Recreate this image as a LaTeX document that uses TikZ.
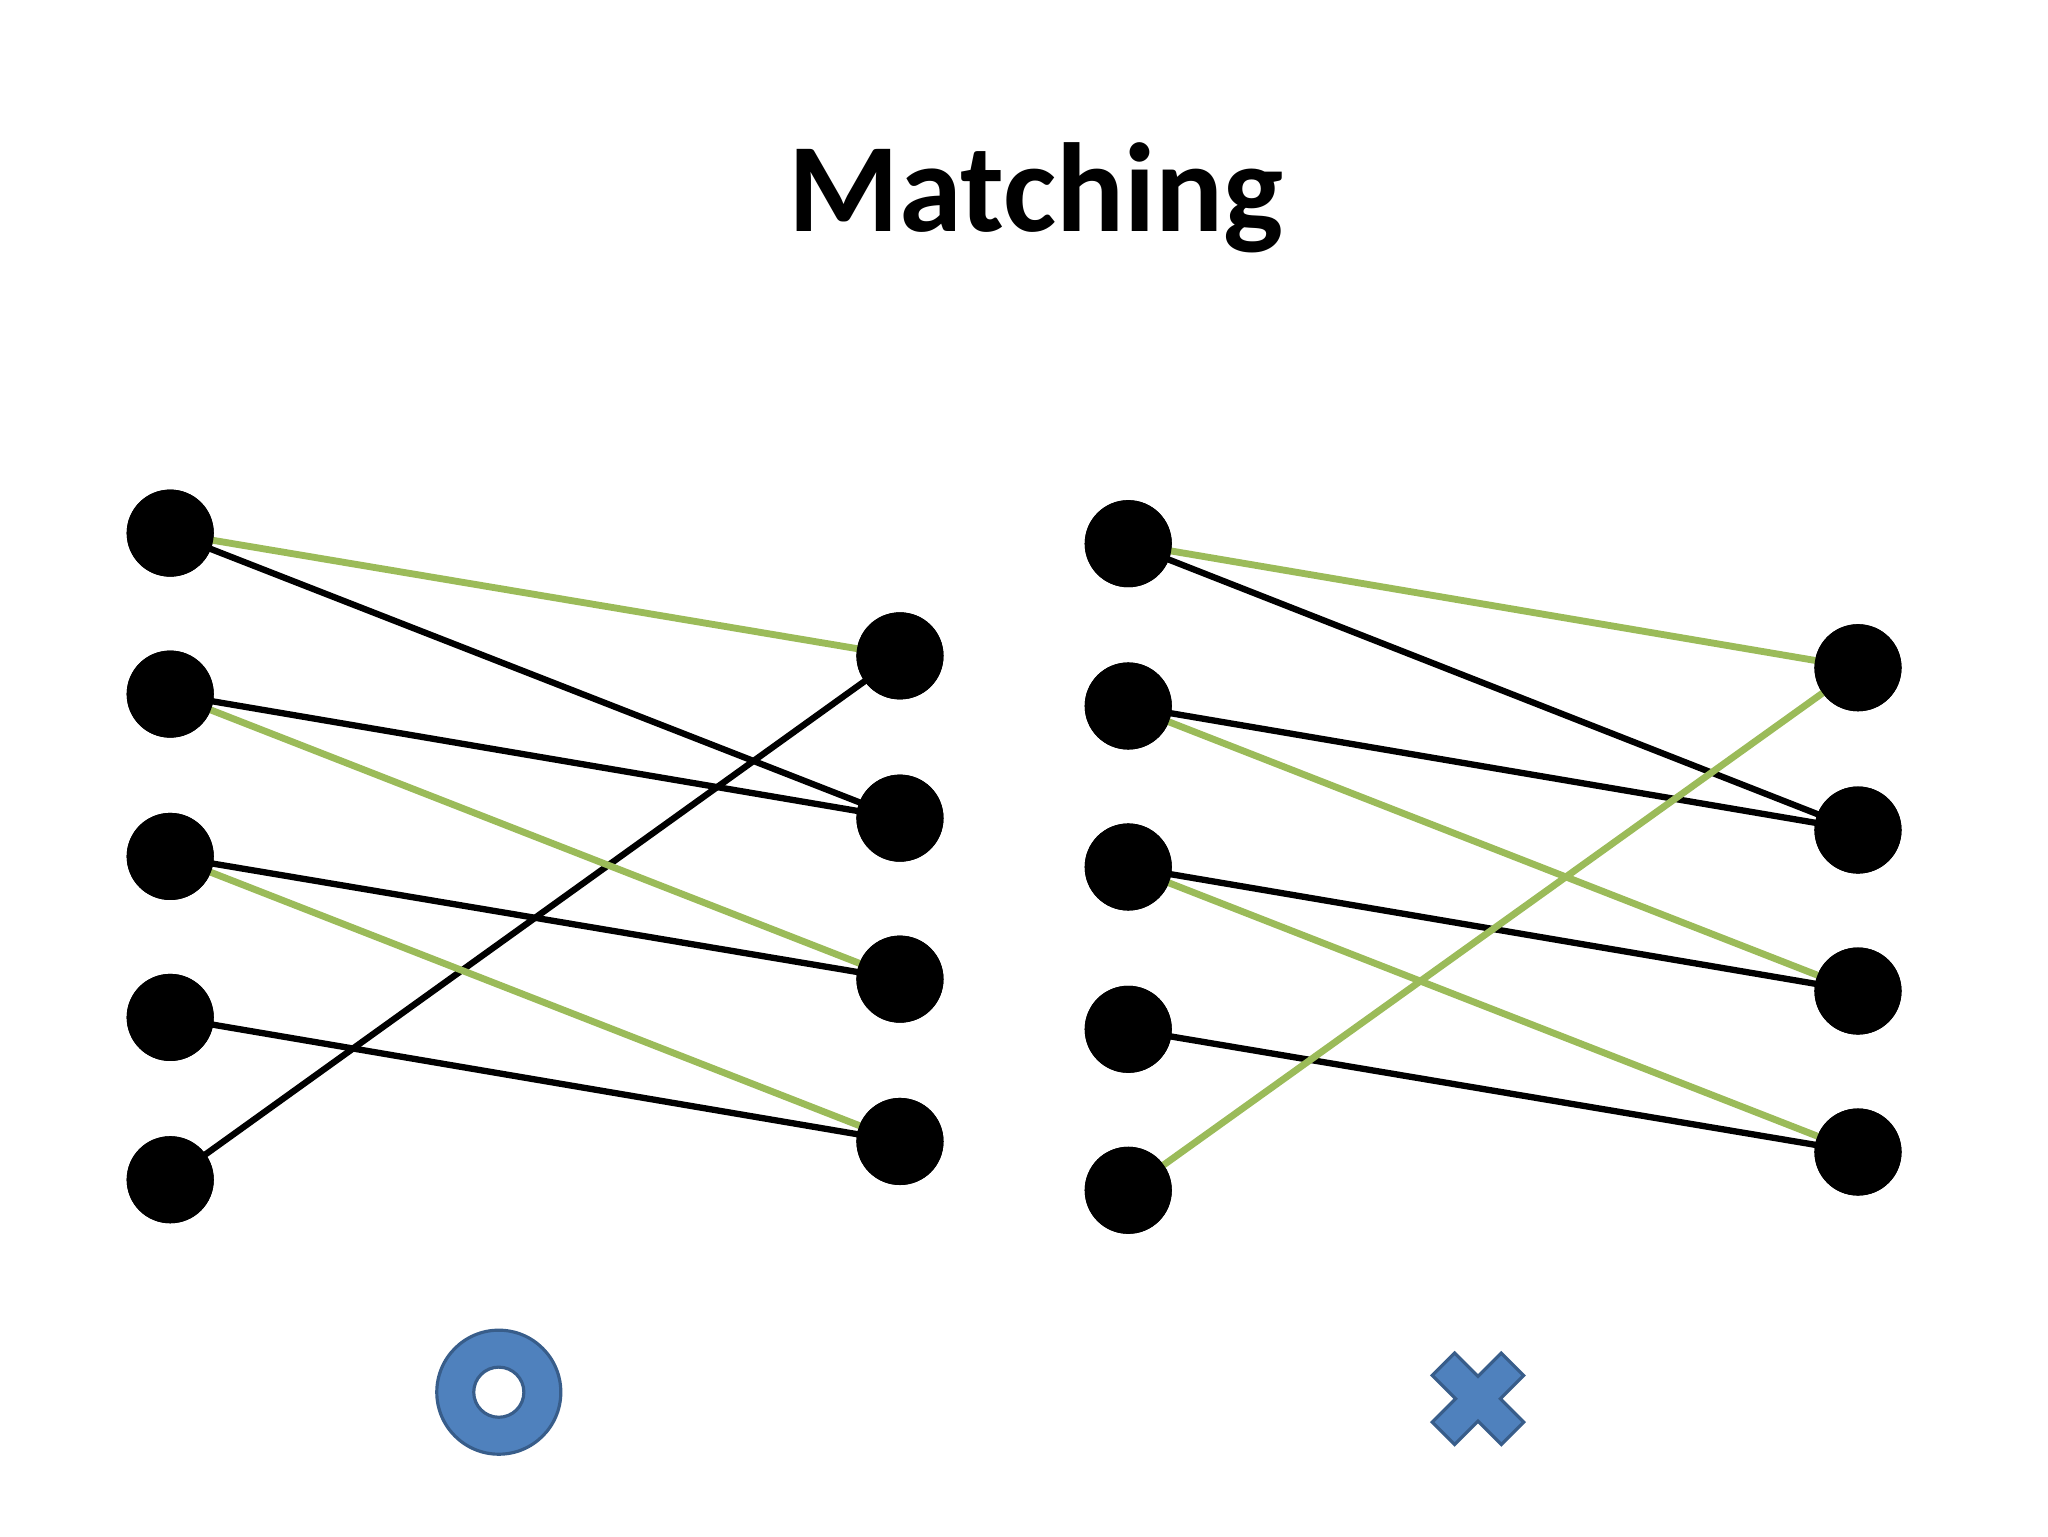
\documentclass[tikz,border=0pt]{standalone}
\usepackage{fontspec}
\setmainfont{Carlito}
\begin{document}
\begin{tikzpicture}[x=0.5pt,y=-0.5pt,
  vert/.style={circle,fill=black,minimum size=33pt,inner sep=0pt}]
\definecolor{gr}{HTML}{9BBB59}
\definecolor{bl}{HTML}{4F81BD}
\definecolor{bld}{HTML}{385D8A}
\tikzset{gedge/.style={draw=gr,line width=2.6pt},bedge/.style={draw=black,line width=2.4pt}}
\useasboundingbox (0,0) rectangle (1552,1164);
\node (title) at (785,150) {\fontsize{48}{58}\selectfont\bfseries Matching};
% left graph
\foreach \i/\y in {1/404,2/526,3/649,4/771,5/894} \node[vert] (a\i) at (129,\y) {};
\foreach \i/\y in {1/497,2/620,3/742,4/865} \node[vert] (b\i) at (682,\y) {};
% right graph
\foreach \i/\y in {1/412,2/535,3/657,4/780,5/902} \node[vert] (c\i) at (855,\y) {};
\foreach \i/\y in {1/506,2/629,3/751,4/873} \node[vert] (d\i) at (1408,\y) {};
\draw[bedge] (a1.center) -- (b2.center);
\draw[bedge] (a2.center) -- (b2.center);
\draw[bedge] (a3.center) -- (b3.center);
\draw[bedge] (a4.center) -- (b4.center);
\draw[bedge] (a5.center) -- (b1.center);
\draw[gedge] (a1.center) -- (b1.center);
\draw[gedge] (a2.center) -- (b3.center);
\draw[gedge] (a3.center) -- (b4.center);
\draw[bedge] (c1.center) -- (d2.center);
\draw[bedge] (c2.center) -- (d2.center);
\draw[bedge] (c3.center) -- (d3.center);
\draw[bedge] (c4.center) -- (d4.center);
\draw[gedge] (c1.center) -- (d1.center);
\draw[gedge] (c2.center) -- (d3.center);
\draw[gedge] (c3.center) -- (d4.center);
\draw[gedge] (c5.center) -- (d1.center);
\foreach \n in {a1,a2,a3,a4,a5,b1,b2,b3,b4,c1,c2,c3,c4,c5,d1,d2,d3,d4}
  \fill (\n) circle (16.5pt);
% symbols
\coordinate (ok) at (378,1055);
\fill[bl,draw=bld,line width=1.2pt,even odd rule] (ok) circle (23.5pt) (ok) circle (9.5pt);
\coordinate (ng) at (1120,1060);
\begin{scope}[shift={(ng)},rotate=45]
\fill[bl,draw=bld,line width=1.2pt]
 (-12,-37) -- (12,-37) -- (12,-12) -- (37,-12) -- (37,12) -- (12,12) -- (12,37)
 -- (-12,37) -- (-12,12) -- (-37,12) -- (-37,-12) -- (-12,-12) -- cycle;
\end{scope}
\end{tikzpicture}
\end{document}
